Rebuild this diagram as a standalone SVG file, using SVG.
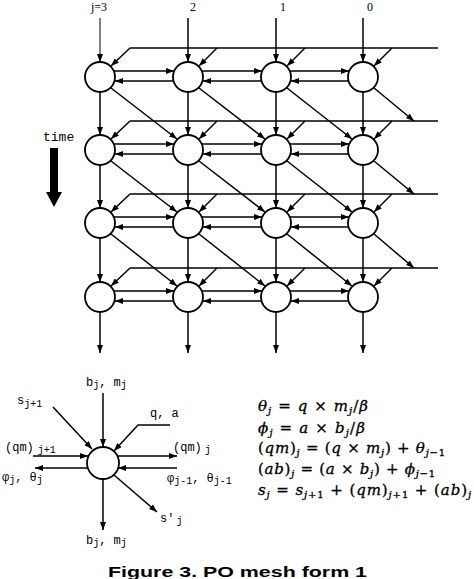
<svg xmlns="http://www.w3.org/2000/svg" width="474" height="579" viewBox="0 0 474 579">
<style>
  .node { fill: #fff; stroke: #000; stroke-width: 1.8; }
  .c { fill: none; stroke: #000; stroke-width: 1.5; }
  .ca { fill: none; stroke: #000; stroke-width: 1.5; marker-end: url(#ah); }
  .lbl { font-family: "Liberation Mono", "DejaVu Sans Mono", monospace; font-size: 12px; fill: #000; }
  .top { font-family: "Liberation Serif", serif; font-size: 12px; fill: #000; }
  .eq { font-family: "DejaVu Serif", "Liberation Serif", serif; font-style: italic; font-size: 15px; fill: #000; stroke: #000; stroke-width: 0.3; }
  .up { font-style: normal; }
  .sub { font-size: 10px; }
  .cap { font-family: "Liberation Sans", Arial, sans-serif; font-weight: bold; font-size: 14px; fill: #000; }
</style>
<defs>
  <marker id="ah" markerUnits="userSpaceOnUse" markerWidth="8" markerHeight="6" refX="8" refY="3" orient="auto">
    <path d="M0,0 L8,3 L0,6 z" fill="#000"/>
  </marker>
</defs>
<rect width="474" height="579" fill="#fff"/>

<g id="column-labels">
  <text class="top" x="99" y="11" text-anchor="middle">j=3</text>
  <text class="top" x="190" y="11">2</text>
  <text class="top" x="280" y="11">1</text>
  <text class="top" x="367" y="11">0</text>
</g>

<g id="time-indicator">
  <text class="lbl" x="43" y="141" style="font-size:13px">time</text>
  <polygon points="50,148 58,148 58,192 62,192 54,207 46,192 50,192" fill="#000"/>
</g>

<g id="connectors">
  <!-- top inputs -->
  <line class="ca" x1="100" y1="18" x2="100" y2="62" style="stroke-width:1"/>
  <line class="ca" x1="188" y1="18" x2="188" y2="62"/>
  <line class="ca" x1="276" y1="18" x2="276" y2="62"/>
  <line class="ca" x1="363" y1="18" x2="363" y2="62"/>
  <!-- verticals between rows -->
  <line class="ca" x1="100" y1="92" x2="100" y2="135"/>
  <line class="ca" x1="188" y1="92" x2="188" y2="135"/>
  <line class="ca" x1="276" y1="92" x2="276" y2="135"/>
  <line class="ca" x1="363" y1="92" x2="363" y2="135"/>
  <line class="ca" x1="100" y1="165" x2="100" y2="208"/>
  <line class="ca" x1="188" y1="165" x2="188" y2="208"/>
  <line class="ca" x1="276" y1="165" x2="276" y2="208"/>
  <line class="ca" x1="363" y1="165" x2="363" y2="208"/>
  <line class="ca" x1="100" y1="238" x2="100" y2="282"/>
  <line class="ca" x1="188" y1="238" x2="188" y2="282"/>
  <line class="ca" x1="276" y1="238" x2="276" y2="282"/>
  <line class="ca" x1="363" y1="238" x2="363" y2="282"/>
  <!-- outputs -->
  <line class="ca" x1="100" y1="312" x2="100" y2="353"/>
  <line class="ca" x1="188" y1="312" x2="188" y2="353"/>
  <line class="ca" x1="276" y1="312" x2="276" y2="353"/>
  <line class="ca" x1="363" y1="312" x2="363" y2="353"/>

  <!-- horizontal pairs, row 1 (y=77) -->
  <line class="ca" x1="114" y1="71" x2="174" y2="71"/>
  <line class="ca" x1="174" y1="81" x2="115" y2="81"/>
  <line class="ca" x1="202" y1="71" x2="262" y2="71"/>
  <line class="ca" x1="262" y1="81" x2="203" y2="81"/>
  <line class="ca" x1="290" y1="71" x2="349" y2="71"/>
  <line class="ca" x1="349" y1="81" x2="291" y2="81"/>
  <!-- row 2 (y=150) -->
  <line class="ca" x1="114" y1="144" x2="174" y2="144"/>
  <line class="ca" x1="174" y1="154" x2="115" y2="154"/>
  <line class="ca" x1="202" y1="144" x2="262" y2="144"/>
  <line class="ca" x1="262" y1="154" x2="203" y2="154"/>
  <line class="ca" x1="290" y1="144" x2="349" y2="144"/>
  <line class="ca" x1="349" y1="154" x2="291" y2="154"/>
  <!-- row 3 (y=223) -->
  <line class="ca" x1="114" y1="217" x2="174" y2="217"/>
  <line class="ca" x1="174" y1="227" x2="115" y2="227"/>
  <line class="ca" x1="202" y1="217" x2="262" y2="217"/>
  <line class="ca" x1="262" y1="227" x2="203" y2="227"/>
  <line class="ca" x1="290" y1="217" x2="349" y2="217"/>
  <line class="ca" x1="349" y1="227" x2="291" y2="227"/>
  <!-- row 4 (y=297) -->
  <line class="ca" x1="114" y1="291" x2="174" y2="291"/>
  <line class="ca" x1="174" y1="301" x2="115" y2="301"/>
  <line class="ca" x1="202" y1="291" x2="262" y2="291"/>
  <line class="ca" x1="262" y1="301" x2="203" y2="301"/>
  <line class="ca" x1="290" y1="291" x2="349" y2="291"/>
  <line class="ca" x1="349" y1="301" x2="291" y2="301"/>

  <!-- buses with branches -->
  <line class="c" x1="130" y1="48" x2="438" y2="48"/>
  <line class="ca" x1="130" y1="48" x2="111" y2="66"/>
  <line class="ca" x1="217" y1="48" x2="199" y2="66"/>
  <line class="ca" x1="305" y1="48" x2="287" y2="66"/>
  <line class="ca" x1="392" y1="48" x2="374" y2="66"/>

  <line class="c" x1="130" y1="121" x2="438" y2="121"/>
  <line class="ca" x1="130" y1="121" x2="111" y2="139"/>
  <line class="ca" x1="217" y1="121" x2="199" y2="139"/>
  <line class="ca" x1="305" y1="121" x2="287" y2="139"/>
  <line class="ca" x1="392" y1="121" x2="374" y2="139"/>

  <line class="c" x1="130" y1="194" x2="438" y2="194"/>
  <line class="ca" x1="130" y1="194" x2="111" y2="212"/>
  <line class="ca" x1="217" y1="194" x2="199" y2="212"/>
  <line class="ca" x1="305" y1="194" x2="287" y2="212"/>
  <line class="ca" x1="392" y1="194" x2="374" y2="212"/>

  <line class="c" x1="130" y1="268" x2="438" y2="268"/>
  <line class="ca" x1="130" y1="268" x2="111" y2="286"/>
  <line class="ca" x1="217" y1="268" x2="199" y2="286"/>
  <line class="ca" x1="305" y1="268" x2="287" y2="286"/>
  <line class="ca" x1="392" y1="268" x2="374" y2="286"/>

  <!-- diagonals -->
  <line class="ca" x1="111" y1="88" x2="177" y2="139"/>
  <line class="ca" x1="199" y1="88" x2="265" y2="139"/>
  <line class="ca" x1="287" y1="88" x2="352" y2="139"/>
  <line class="ca" x1="374" y1="88" x2="414" y2="121"/>

  <line class="ca" x1="111" y1="161" x2="177" y2="212"/>
  <line class="ca" x1="199" y1="161" x2="265" y2="212"/>
  <line class="ca" x1="287" y1="161" x2="352" y2="212"/>
  <line class="ca" x1="374" y1="161" x2="414" y2="194"/>

  <line class="ca" x1="111" y1="234" x2="177" y2="286"/>
  <line class="ca" x1="199" y1="234" x2="265" y2="286"/>
  <line class="ca" x1="287" y1="234" x2="352" y2="286"/>
  <line class="ca" x1="374" y1="234" x2="414" y2="268"/>

  <!-- detail node connectors -->
  <line class="ca" x1="103" y1="393" x2="103" y2="447"/>
  <line class="ca" x1="53" y1="407" x2="92" y2="449"/>
  <polyline class="ca" points="170,425 138,425 114,451"/>
  <line class="ca" x1="33" y1="456" x2="88" y2="456"/>
  <line class="ca" x1="88" y1="468" x2="35" y2="468"/>
  <line class="ca" x1="118" y1="456" x2="177" y2="456"/>
  <line class="ca" x1="177" y1="468" x2="118" y2="468"/>
  <line class="ca" x1="114" y1="475" x2="157" y2="512"/>
  <line class="ca" x1="103" y1="479" x2="103" y2="530"/>
</g>

<g id="n-1-3"><circle class="node" cx="100" cy="77" r="15"/></g>
<g id="n-1-2"><circle class="node" cx="188" cy="77" r="15"/></g>
<g id="n-1-1"><circle class="node" cx="276" cy="77" r="15"/></g>
<g id="n-1-0"><circle class="node" cx="363" cy="77" r="15"/></g>
<g id="n-2-3"><circle class="node" cx="100" cy="150" r="15"/></g>
<g id="n-2-2"><circle class="node" cx="188" cy="150" r="15"/></g>
<g id="n-2-1"><circle class="node" cx="276" cy="150" r="15"/></g>
<g id="n-2-0"><circle class="node" cx="363" cy="150" r="15"/></g>
<g id="n-3-3"><circle class="node" cx="100" cy="223" r="15"/></g>
<g id="n-3-2"><circle class="node" cx="188" cy="223" r="15"/></g>
<g id="n-3-1"><circle class="node" cx="276" cy="223" r="15"/></g>
<g id="n-3-0"><circle class="node" cx="363" cy="223" r="15"/></g>
<g id="n-4-3"><circle class="node" cx="100" cy="297" r="15"/></g>
<g id="n-4-2"><circle class="node" cx="188" cy="297" r="15"/></g>
<g id="n-4-1"><circle class="node" cx="276" cy="297" r="15"/></g>
<g id="n-4-0"><circle class="node" cx="363" cy="297" r="15"/></g>

<g id="detail-node">
  <circle class="node" cx="103" cy="463" r="16"/>
  <text class="lbl" x="86" y="386">b<tspan class="sub" dy="2">j</tspan><tspan dy="-2">, m</tspan><tspan class="sub" dy="2">j</tspan></text>
  <text class="lbl" x="17" y="404">s<tspan class="sub" dy="3">j+1</tspan></text>
  <text class="lbl" x="150" y="417">q, a</text>
  <text class="lbl" x="5" y="451">(qm)<tspan class="sub" dx="4" dy="2">j+1</tspan></text>
  <text class="lbl" x="2" y="481">φ<tspan class="sub" dy="2">j</tspan><tspan dy="-2">, θ</tspan><tspan class="sub" dy="2">j</tspan></text>
  <text class="lbl" x="173" y="451">(qm)<tspan class="sub" dx="3" dy="2">j</tspan></text>
  <text class="lbl" x="167" y="482">φ<tspan class="sub" dy="2">j-1</tspan><tspan dy="-2">, θ</tspan><tspan class="sub" dy="2">j-1</tspan></text>
  <text class="lbl" x="160" y="522">s'<tspan class="sub" dx="2" dy="2">j</tspan></text>
  <text class="lbl" x="86" y="544">b<tspan class="sub" dy="2">j</tspan><tspan dy="-2">, m</tspan><tspan class="sub" dy="2">j</tspan></text>
</g>

<g id="equations">
  <text class="eq" x="258" y="411" textLength="110" lengthAdjust="spacing">θ<tspan class="sub" dy="3">j</tspan><tspan class="up" dy="-3"> = </tspan>q<tspan class="up"> × </tspan>m<tspan class="sub" dy="3">j</tspan><tspan class="up" dy="-3">/</tspan>β</text>
  <text class="eq" x="258" y="433" textLength="107" lengthAdjust="spacing">ϕ<tspan class="sub" dy="3">j</tspan><tspan class="up" dy="-3"> = </tspan>a<tspan class="up"> × </tspan>b<tspan class="sub" dy="3">j</tspan><tspan class="up" dy="-3">/</tspan>β</text>
  <text class="eq" x="258" y="453" textLength="187" lengthAdjust="spacing"><tspan class="up">(</tspan>qm<tspan class="up">)</tspan><tspan class="sub" dy="3">j</tspan><tspan class="up" dy="-3"> = (</tspan>q<tspan class="up"> × </tspan>m<tspan class="sub" dy="3">j</tspan><tspan class="up" dy="-3">) + </tspan>θ<tspan class="sub" dy="3">j<tspan class="up">−1</tspan></tspan></text>
  <text class="eq" x="258" y="474" textLength="177" lengthAdjust="spacing"><tspan class="up">(</tspan>ab<tspan class="up">)</tspan><tspan class="sub" dy="3">j</tspan><tspan class="up" dy="-3"> = (</tspan>a<tspan class="up"> × </tspan>b<tspan class="sub" dy="3">j</tspan><tspan class="up" dy="-3">) + </tspan>ϕ<tspan class="sub" dy="3">j<tspan class="up">−1</tspan></tspan></text>
  <text class="eq" x="258" y="495" textLength="213" lengthAdjust="spacing">s<tspan class="sub" dy="3">j</tspan><tspan class="up" dy="-3"> = </tspan>s<tspan class="sub" dy="3">j<tspan class="up">+1</tspan></tspan><tspan class="up" dy="-3"> + (</tspan>qm<tspan class="up">)</tspan><tspan class="sub" dy="3">j<tspan class="up">+1</tspan></tspan><tspan class="up" dy="-3"> + (</tspan>ab<tspan class="up">)</tspan><tspan class="sub" dy="3">j</tspan></text>
</g>

<g id="caption">
  <text class="cap" x="108" y="577" textLength="259" lengthAdjust="spacingAndGlyphs">Figure 3. PO mesh form 1</text>
</g>
</svg>
